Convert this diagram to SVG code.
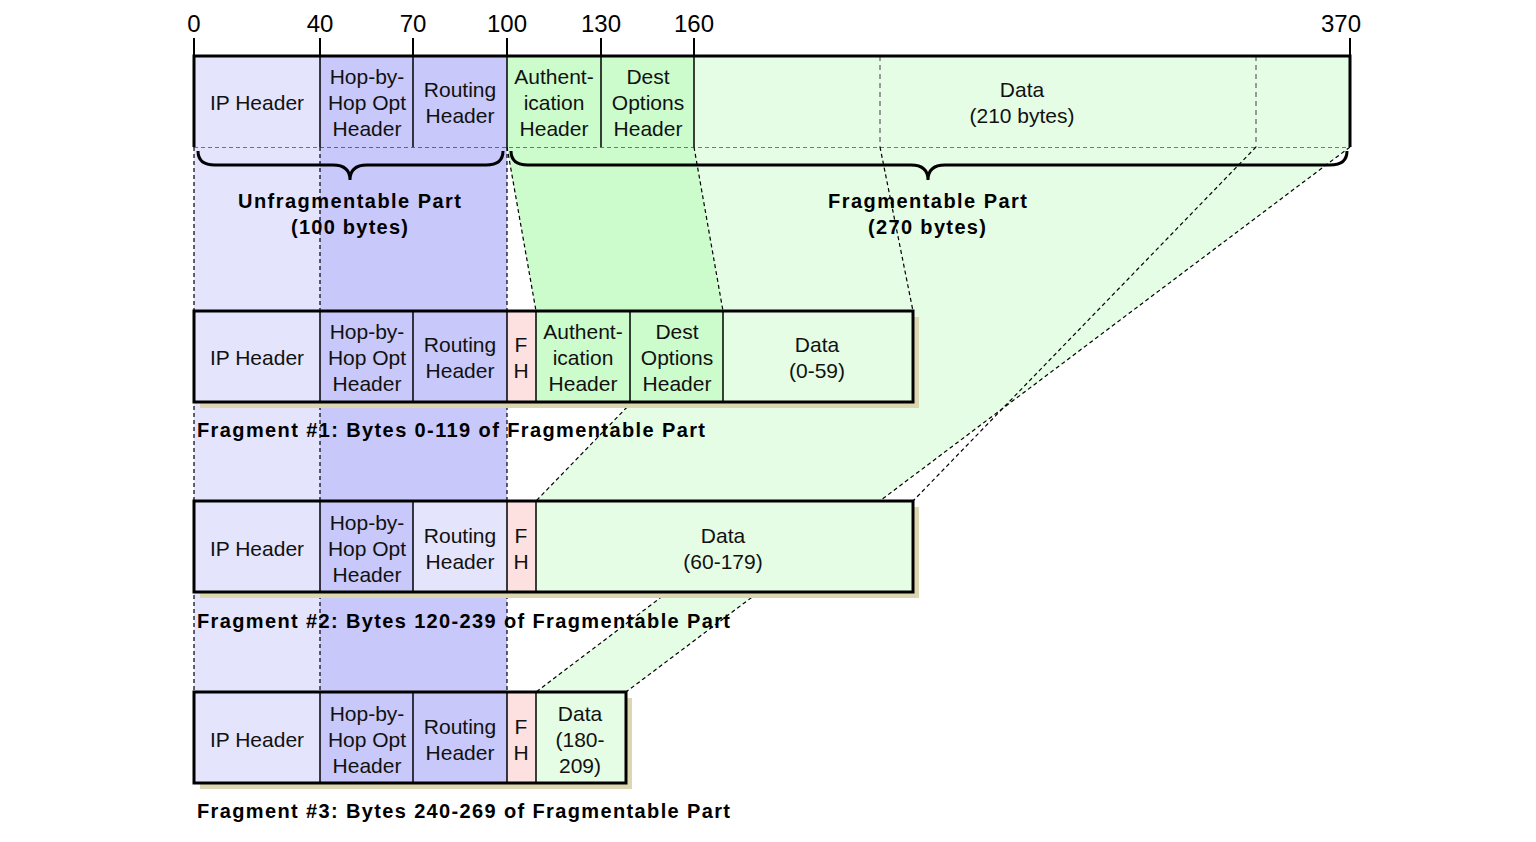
<svg xmlns="http://www.w3.org/2000/svg" width="1536" height="842" viewBox="0 0 1536 842">
<style>
.t{font-family:"Liberation Sans",Arial,sans-serif;font-size:21px;fill:#111;text-anchor:middle}
.s{font-family:"Liberation Sans",Arial,sans-serif;font-size:24px;fill:#000;text-anchor:middle}
.b{font-family:"Liberation Sans",Arial,sans-serif;font-size:20px;font-weight:bold;fill:#000}
.bc{text-anchor:middle}
.d{stroke:#000;stroke-width:1.2;stroke-dasharray:4,3;fill:none}
.g{stroke:#999;stroke-width:2;stroke-dasharray:5,4;fill:none}
.ln{stroke:#000;stroke-width:1.5}
.box{fill:none;stroke:#000;stroke-width:3}
.sh{fill:#dcd7b0}
.ip{fill:#e4e4fc}.hb{fill:#c8c8fa}.fh{fill:#fde0e0}.gr{fill:#ccfccc}.lg{fill:#e5fde5}
</style>
<rect width="1536" height="842" fill="#fff"/>
<g id="bands">
<rect x="194" y="147" width="126" height="545" class="ip"/>
<rect x="320" y="147" width="187" height="545" class="hb"/>
<polygon points="507,147 694,147 723,311 536,311" class="gr"/>
<polygon points="694,147 1350,147 626,692 536,692 668,592 536,592 536,501 632,402 723,311" class="lg"/>
</g>
<g id="connectors">
<line x1="194" y1="147" x2="194" y2="692" class="d"/>
<line x1="320" y1="147" x2="320" y2="692" class="d"/>
<line x1="507" y1="147" x2="507" y2="692" class="d"/>
<line x1="507" y1="147" x2="536" y2="311" class="d"/>
<line x1="694" y1="147" x2="723" y2="311" class="d"/>
<line x1="880" y1="147" x2="913" y2="311" class="d"/>
<line x1="632" y1="402" x2="536" y2="501" class="d"/>
<line x1="1256" y1="147" x2="913" y2="501" class="d"/>
<line x1="668" y1="592" x2="536" y2="692" class="d"/>
<line x1="1350" y1="147" x2="626" y2="692" class="d"/>
<line x1="194" y1="147" x2="1350" y2="147" class="d"/>
</g>
<g id="original">
<rect x="194" y="56" width="126" height="91" class="ip"/>
<rect x="320" y="56" width="187" height="91" class="hb"/>
<rect x="507" y="56" width="187" height="91" class="gr"/>
<rect x="694" y="56" width="656" height="91" class="lg"/>
<line x1="320" y1="56" x2="320" y2="147" class="ln"/>
<line x1="413" y1="56" x2="413" y2="147" class="ln"/>
<line x1="507" y1="56" x2="507" y2="147" class="ln"/>
<line x1="601" y1="56" x2="601" y2="147" class="ln"/>
<line x1="694" y1="56" x2="694" y2="147" class="ln"/>
<line x1="880" y1="56" x2="880" y2="147" class="g"/>
<line x1="1256" y1="56" x2="1256" y2="147" class="g"/>
<path d="M194,147 V56 H1350 V147" fill="none" stroke="#000" stroke-width="3"/>
<g stroke="#000" stroke-width="2">
<line x1="194" y1="38" x2="194" y2="56"/><line x1="320" y1="38" x2="320" y2="56"/><line x1="413" y1="38" x2="413" y2="56"/><line x1="507" y1="38" x2="507" y2="56"/><line x1="601" y1="38" x2="601" y2="56"/><line x1="694" y1="38" x2="694" y2="56"/><line x1="1350" y1="38" x2="1350" y2="56"/>
</g>
<text class="s" x="194" y="32">0</text><text class="s" x="320" y="32">40</text><text class="s" x="413" y="32">70</text><text class="s" x="507" y="32">100</text><text class="s" x="601" y="32">130</text><text class="s" x="694" y="32">160</text><text class="s" x="1341" y="32">370</text>
<text class="t" x="257" y="110">IP Header</text>
<text class="t" x="367" y="84">Hop-by-</text><text class="t" x="367" y="110">Hop Opt</text><text class="t" x="367" y="136">Header</text>
<text class="t" x="460" y="97">Routing</text><text class="t" x="460" y="123">Header</text>
<text class="t" x="554" y="84">Authent-</text><text class="t" x="554" y="110">ication</text><text class="t" x="554" y="136">Header</text>
<text class="t" x="648" y="84">Dest</text><text class="t" x="648" y="110">Options</text><text class="t" x="648" y="136">Header</text>
<text class="t" x="1022" y="97">Data</text><text class="t" x="1022" y="123">(210 bytes)</text>
</g>
<g id="braces" fill="none" stroke="#000" stroke-width="3">
<path d="M198,151 Q198,165 215,165 H333 Q350,165 350,180 Q350,165 367,165 H486 Q503,165 503,151"/>
<path d="M511,151 Q511,165 528,165 H911 Q928,165 928,180 Q928,165 945,165 H1330 Q1347,165 1347,151"/>
</g>
<g id="partlabels">
<text class="b" x="238" y="208" textLength="223" lengthAdjust="spacing">Unfragmentable Part</text><text class="b" x="291" y="234" textLength="117" lengthAdjust="spacing">(100 bytes)</text>
<text class="b" x="828" y="208" textLength="199" lengthAdjust="spacing">Fragmentable Part</text><text class="b" x="868" y="234" textLength="118" lengthAdjust="spacing">(270 bytes)</text>
</g>
<g id="fragment1">
<rect x="200" y="317" width="719" height="91" class="sh"/>
<rect x="194" y="311" width="126" height="91" class="ip"/>
<rect x="320" y="311" width="187" height="91" class="hb"/>
<rect x="507" y="311" width="29" height="91" class="fh"/>
<rect x="536" y="311" width="187" height="91" class="gr"/>
<rect x="723" y="311" width="190" height="91" class="lg"/>
<g class="ln"><line x1="320" y1="311" x2="320" y2="402"/><line x1="413" y1="311" x2="413" y2="402"/><line x1="507" y1="311" x2="507" y2="402"/><line x1="536" y1="311" x2="536" y2="402"/><line x1="630" y1="311" x2="630" y2="402"/><line x1="723" y1="311" x2="723" y2="402"/></g>
<rect x="194" y="311" width="719" height="91" class="box"/>
<text class="t" x="257" y="365">IP Header</text>
<text class="t" x="367" y="339">Hop-by-</text><text class="t" x="367" y="365">Hop Opt</text><text class="t" x="367" y="391">Header</text>
<text class="t" x="460" y="352">Routing</text><text class="t" x="460" y="378">Header</text>
<text class="t" x="521" y="352">F</text><text class="t" x="521" y="378">H</text>
<text class="t" x="583" y="339">Authent-</text><text class="t" x="583" y="365">ication</text><text class="t" x="583" y="391">Header</text>
<text class="t" x="677" y="339">Dest</text><text class="t" x="677" y="365">Options</text><text class="t" x="677" y="391">Header</text>
<text class="t" x="817" y="352">Data</text><text class="t" x="817" y="378">(0-59)</text>
<text class="b" x="197" y="437" textLength="508" lengthAdjust="spacing">Fragment #1: Bytes 0-119 of Fragmentable Part</text>
</g>
<g id="fragment2">
<rect x="200" y="507" width="719" height="91" class="sh"/>
<rect x="194" y="501" width="126" height="91" class="ip"/>
<rect x="320" y="501" width="93" height="91" class="hb"/>
<rect x="413" y="501" width="94" height="91" class="ip"/>
<rect x="507" y="501" width="29" height="91" class="fh"/>
<rect x="536" y="501" width="377" height="91" class="lg"/>
<g class="ln"><line x1="320" y1="501" x2="320" y2="592"/><line x1="413" y1="501" x2="413" y2="592"/><line x1="507" y1="501" x2="507" y2="592"/><line x1="536" y1="501" x2="536" y2="592"/></g>
<rect x="194" y="501" width="719" height="91" class="box"/>
<text class="t" x="257" y="556">IP Header</text>
<text class="t" x="367" y="530">Hop-by-</text><text class="t" x="367" y="556">Hop Opt</text><text class="t" x="367" y="582">Header</text>
<text class="t" x="460" y="543">Routing</text><text class="t" x="460" y="569">Header</text>
<text class="t" x="521" y="543">F</text><text class="t" x="521" y="569">H</text>
<text class="t" x="723" y="543">Data</text><text class="t" x="723" y="569">(60-179)</text>
<text class="b" x="197" y="628" textLength="533" lengthAdjust="spacing">Fragment #2: Bytes 120-239 of Fragmentable Part</text>
</g>
<g id="fragment3">
<rect x="200" y="698" width="432" height="91" class="sh"/>
<rect x="194" y="692" width="126" height="91" class="ip"/>
<rect x="320" y="692" width="187" height="91" class="hb"/>
<rect x="507" y="692" width="29" height="91" class="fh"/>
<rect x="536" y="692" width="90" height="91" class="lg"/>
<g class="ln"><line x1="320" y1="692" x2="320" y2="783"/><line x1="413" y1="692" x2="413" y2="783"/><line x1="507" y1="692" x2="507" y2="783"/><line x1="536" y1="692" x2="536" y2="783"/></g>
<rect x="194" y="692" width="432" height="91" class="box"/>
<text class="t" x="257" y="747">IP Header</text>
<text class="t" x="367" y="721">Hop-by-</text><text class="t" x="367" y="747">Hop Opt</text><text class="t" x="367" y="773">Header</text>
<text class="t" x="460" y="734">Routing</text><text class="t" x="460" y="760">Header</text>
<text class="t" x="521" y="734">F</text><text class="t" x="521" y="760">H</text>
<text class="t" x="580" y="721">Data</text><text class="t" x="580" y="747">(180-</text><text class="t" x="580" y="773">209)</text>
<text class="b" x="197" y="818" textLength="533" lengthAdjust="spacing">Fragment #3: Bytes 240-269 of Fragmentable Part</text>
</g>
</svg>
